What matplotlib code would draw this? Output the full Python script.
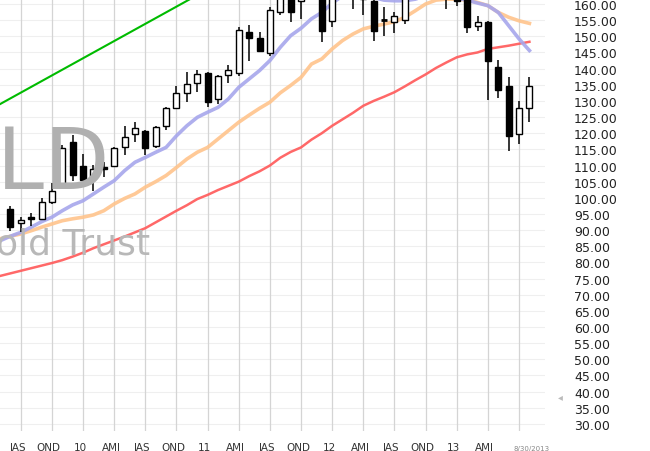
import matplotlib
matplotlib.use("Agg")
import matplotlib.pyplot as plt
import numpy as np

# month index: 0 = Jan 2013
candle_months = list(range(-43, 8))
opens = [96.5, 92.2, 94.0, 93.5, 98.6, 103.3, 117.2, 109.8, 106.3, 109.5, 109.8, 115.6, 119.8, 120.8, 115.9,
         122.1, 127.8, 132.5, 135.4, 138.6, 130.6, 138.1, 138.6, 151.2, 149.4, 144.8, 157.6, 177.0, 161.0,
         166.0, 169.0, 154.6, 170.0, 164.0, 162.0, 161.0, 155.3, 154.5, 155.0, 164.0, 171.0, 166.0, 165.5,
         162.5, 161.5, 153.1, 154.5, 140.4, 134.5, 119.6, 127.7]
highs = [97.6, 94.0, 95.2, 99.8, 104.5, 116.5, 119.5, 113.6, 110.2, 111.0, 115.7, 122.1, 123.4, 120.9, 122.1,
         128.0, 134.5, 139.0, 139.6, 138.9, 138.0, 141.1, 152.8, 153.5, 151.4, 159.0, 185.9, 183.0, 172.0,
         174.0, 171.0, 170.0, 173.0, 166.0, 164.0, 161.5, 159.0, 157.4, 165.0, 173.0, 172.0, 170.0, 167.0,
         163.0, 162.5, 156.2, 154.6, 142.7, 137.3, 130.1, 137.3]
lows = [89.8, 89.3, 91.4, 93.3, 98.1, 102.8, 105.3, 105.4, 102.2, 106.3, 109.6, 113.4, 117.2, 113.1, 115.4,
        121.1, 127.6, 129.6, 132.9, 128.0, 129.0, 135.5, 137.8, 142.5, 145.3, 144.0, 156.7, 154.3, 155.4,
        162.0, 148.3, 153.0, 163.0, 158.5, 156.7, 148.6, 150.2, 150.9, 153.8, 163.0, 164.0, 162.5, 158.5,
        159.5, 150.9, 151.5, 130.4, 130.9, 114.6, 116.7, 123.6]
closes = [90.9, 93.2, 93.5, 98.6, 102.2, 115.4, 107.2, 105.6, 108.9, 108.9, 115.4, 118.7, 121.5, 115.3, 121.8,
          127.7, 132.4, 135.1, 138.3, 129.6, 137.6, 139.7, 152.1, 149.4, 145.6, 158.0, 177.0, 157.6, 167.0,
          169.0, 151.7, 169.8, 164.0, 162.0, 161.5, 151.5, 155.1, 156.2, 164.0, 171.0, 166.0, 166.5, 162.0,
          161.0, 152.8, 154.3, 142.5, 133.5, 119.0, 127.7, 134.5]

ma_months = list(range(-44, 8))
ma_blue = [86.7, 88.1, 89.3, 90.9, 92.6, 94.0, 96.0, 97.8, 99.1, 101.2, 103.3, 105.3, 108.4, 111.0, 112.5,
           114.1, 115.6, 119.2, 122.3, 124.9, 126.5, 128.0, 130.6, 134.2, 136.8, 139.4, 142.5, 146.6, 150.2,
           152.5, 155.4, 157.4, 160.3, 162.5, 163.5, 163.0, 162.0, 161.2, 161.0, 161.0, 161.5, 162.5, 163.0,
           162.5, 161.8, 161.2, 160.3, 159.5, 157.4, 153.3, 149.2, 145.6]
ma_orange = [87.3, 88.1, 88.8, 89.8, 90.9, 91.9, 92.9, 93.5, 94.0, 94.7, 96.0, 98.1, 99.8, 101.2, 103.3,
             105.0, 106.9, 109.4, 112.0, 114.1, 115.6, 118.2, 120.8, 123.4, 125.6, 127.7, 129.6, 132.5, 134.8,
             137.3, 141.4, 143.0, 146.1, 148.7, 150.7, 152.3, 153.1, 153.8, 154.5, 155.9, 157.9, 160.0, 161.2,
             161.5, 161.5, 161.2, 160.5, 159.5, 157.4, 155.9, 154.8, 154.0]
ma_red = [75.8, 76.6, 77.4, 78.2, 79.0, 79.8, 80.7, 81.8, 83.0, 84.4, 85.6, 86.8, 88.0, 89.3, 90.6, 92.4,
          94.2, 96.0, 97.7, 99.6, 100.9, 102.4, 103.7, 105.0, 106.7, 108.2, 110.0, 112.4, 114.2, 115.6, 118.0,
          120.0, 122.3, 124.3, 126.3, 128.5, 130.0, 131.3, 132.7, 134.5, 136.4, 138.2, 140.2, 141.9, 143.5,
          144.4, 145.0, 146.1, 146.6, 147.1, 147.7, 148.3]

trend_months = [-44, -25.7]
trend_prices = [129.0, 161.5]

quarter_months = list(range(-42, 8, 3))
quarter_labels = ["JAS", "OND", "10", "AMJ", "JAS", "OND", "11", "AMJ", "JAS", "OND", "12", "AMJ",
                  "JAS", "OND", "13", "AMJ"]
yticks = list(range(30, 161, 5))

fig = plt.figure(figsize=(6.5, 4.52), dpi=100)
ax = fig.add_axes([0, 20 / 452, 545 / 650, 432 / 452])
ax.set_xlim(-44, 8.5)
ax.set_ylim(27.8, 161.55)

for y in yticks:
    ax.axhline(y, color="#efefef", lw=0.8, zorder=0)
for q in quarter_months:
    ax.axvline(q, color="#d4d4d4", lw=0.9, zorder=0)

fig.text(-0.105, 0.582, "GLD", fontsize=61, color="#b0b0b0", zorder=0)
fig.text(-0.05, 0.437, "Gold Trust", fontsize=26, color="#b8b8b8", zorder=0)

ax.plot(trend_months, trend_prices, color="#00bb00", lw=1.5, zorder=2)
ax.plot(ma_months, ma_red, color="#ff6060", lw=1.8, alpha=0.95, zorder=2)
ax.plot(ma_months, ma_orange, color="#ffc48c", lw=2.6, alpha=0.9, zorder=2)
ax.plot(ma_months, ma_blue, color="#a6a6ec", lw=2.6, alpha=0.9, zorder=2)

w = 0.58
for m, o, h, l, c in zip(candle_months, opens, highs, lows, closes):
    ax.vlines(m, l, h, color="black", lw=1.1, zorder=3)
    lo, hi = min(o, c), max(o, c)
    if hi - lo < 0.4:
        ax.hlines((o + c) / 2, m - w / 2, m + w / 2, color="black", lw=2, zorder=4)
        continue
    face = "white" if c > o else "black"
    ax.add_patch(plt.Rectangle((m - w / 2, lo), w, hi - lo, facecolor=face,
                               edgecolor="black", lw=1, zorder=4))

ax.set_xticks([q - 0.3 for q in quarter_months[:len(quarter_labels)]])
ax.set_xticklabels(quarter_labels, fontsize=7.5, color="#333333")
ax.tick_params(axis="x", length=0, pad=8)
ax.yaxis.tick_right()
ax.set_yticks(yticks)
ax.set_yticklabels([f"{v:.2f}" for v in yticks], fontsize=9, color="#222222")
ax.tick_params(axis="y", length=0, pad=21)
for s in ax.spines.values():
    s.set_visible(False)
ax.set_facecolor("white")

fig.text(560 / 650, 1 - 397 / 452, "\u25c2", fontsize=7, color="#bbbbbb", va="center", ha="center")
fig.text(513 / 650, 0.002, "8/30/2013", fontsize=5, color="#888888")

fig.savefig("out.png", dpi=100)
